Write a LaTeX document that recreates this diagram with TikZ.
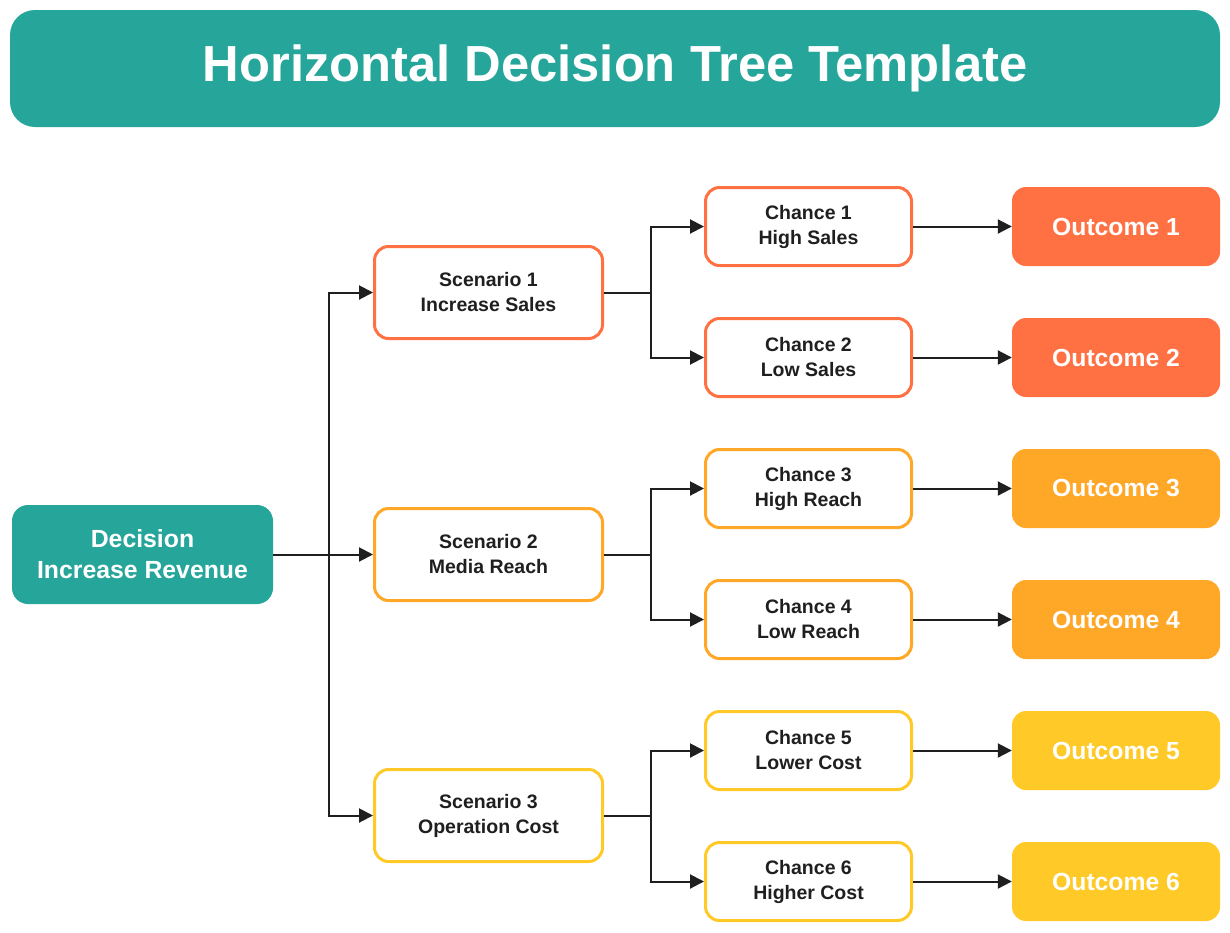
\documentclass[tikz,border=0pt]{standalone}
\usepackage{fontspec}
\setmainfont{Liberation Sans}
\usepackage{tikz}
\usetikzlibrary{arrows.meta}
\definecolor{teal}{HTML}{26A69A}
\definecolor{redorange}{HTML}{FF7043}
\definecolor{amber}{HTML}{FFA726}
\definecolor{gold}{HTML}{FFCA28}
\definecolor{ink}{HTML}{1F1F1F}
\tikzstyle{box}=[rounded corners=14pt, align=center, font=\bfseries\fontsize{19.5}{25}\selectfont, text=ink]
\tikzstyle{scen}=[box, draw, line width=3pt, fill=white, minimum width=228pt, minimum height=92pt]
\tikzstyle{chance}=[box, draw, line width=3pt, fill=white, minimum width=206pt, minimum height=78pt]
\tikzstyle{outcome}=[box, text=white, font=\bfseries\fontsize{24.7}{30}\selectfont, minimum width=208pt, minimum height=79pt]
\tikzstyle{link}=[line width=2pt, draw=ink]
\tikzstyle{arr}=[link, -{Triangle[length=14pt, width=14pt]}]

\begin{document}
\begin{tikzpicture}[x=1pt, y=-1pt]
        \useasboundingbox (0, 0) rectangle (1230, 932);
        \node[fill=teal, rounded corners=25pt, minimum width=1210pt, minimum height=117pt, text=white, font=\bfseries\fontsize{50.7}{60}\selectfont] (title) at (615, 68.5) {Horizontal Decision Tree Template};
        \node[box, fill=teal, text=white, font=\bfseries\fontsize{24.8}{31}\selectfont, rounded corners=16pt, minimum width=261pt, minimum height=99pt] (dec) at (142.5, 554.5) {Decision\\Increase Revenue};
        \node[scen, draw=redorange] (sc1) at (488.5, 292.5) {Scenario 1\\Increase Sales};
        \node[scen, draw=amber] (sc2) at (488.5, 554.5) {Scenario 2\\Media Reach};
        \node[scen, draw=gold] (sc3) at (488.5, 815.5) {Scenario 3\\Operation Cost};
        \node[chance, draw=redorange] (ch1) at (808.5, 226.5) {Chance 1\\High Sales};
        \node[chance, draw=redorange] (ch2) at (808.5, 357.5) {Chance 2\\Low Sales};
        \node[chance, draw=amber] (ch3) at (808.5, 488.5) {Chance 3\\High Reach};
        \node[chance, draw=amber] (ch4) at (808.5, 619.5) {Chance 4\\Low Reach};
        \node[chance, draw=gold] (ch5) at (808.5, 750.5) {Chance 5\\Lower Cost};
        \node[chance, draw=gold] (ch6) at (808.5, 881.5) {Chance 6\\Higher Cost};
        \node[outcome, fill=redorange] (out1) at (1116, 226.5) {Outcome 1};
        \node[outcome, fill=redorange] (out2) at (1116, 357.5) {Outcome 2};
        \node[outcome, fill=amber] (out3) at (1116, 488.5) {Outcome 3};
        \node[outcome, fill=amber] (out4) at (1116, 619.5) {Outcome 4};
        \node[outcome, fill=gold] (out5) at (1116, 750.5) {Outcome 5};
        \node[outcome, fill=gold] (out6) at (1116, 881.5) {Outcome 6};
        % branch points
        \coordinate (j0) at (329, 554.5);
        \coordinate (j1) at (651, 292.5);
        \coordinate (j2) at (651, 554.5);
        \coordinate (j3) at (651, 815.5);
        \draw[arr] (dec) -- (sc2);
        \draw[arr] (j0) |- (sc1);
        \draw[arr] (j0) |- (sc3);
        \draw[link] (sc1) -- (j1);
        \draw[link] (sc2) -- (j2);
        \draw[link] (sc3) -- (j3);
        \draw[arr] (j1) |- (ch1);
        \draw[arr] (j1) |- (ch2);
        \draw[arr] (j2) |- (ch3);
        \draw[arr] (j2) |- (ch4);
        \draw[arr] (j3) |- (ch5);
        \draw[arr] (j3) |- (ch6);
        \draw[arr] (ch1) -- (out1);
        \draw[arr] (ch2) -- (out2);
        \draw[arr] (ch3) -- (out3);
        \draw[arr] (ch4) -- (out4);
        \draw[arr] (ch5) -- (out5);
        \draw[arr] (ch6) -- (out6);
    \end{tikzpicture}
\end{document}
